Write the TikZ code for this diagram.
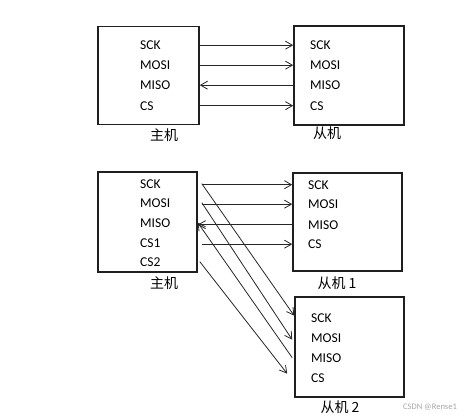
\documentclass[tikz,border=0pt]{standalone}
\usepackage{fontspec}
\setmainfont{Carlito}
\newfontfamily\cjk{Noto Sans CJK SC}
\usetikzlibrary{arrows.meta}

\tikzset{
		box/.style={draw=black!88, line width=1.6bp, minimum width=#1},
		box/.default=101bp,
		pin/.style={anchor=base west, inner sep=0pt, font=\fontsize{13.5bp}{15bp}\selectfont},
		caption/.style={inner sep=0pt, font=\cjk\fontsize{14bp}{16bp}\selectfont},
		sig/.style={black!85, line width=0.8bp, -{Straight Barb[length=7bp,width=8bp]}}
	}

\begin{document}
\begin{tikzpicture}[x=1bp, y=-1bp]
	\useasboundingbox (0,0) rectangle (474,419);
	
	% one host, one slave
	\node (mst1) at (148.5,75.5) [box, minimum height=98bp] {};
	\node (slv1) at (349,75.5) [box=110bp, minimum height=99bp] {};
	
	\node (mst1sck) at (140,49.5) [pin] {SCK};
	\node (mst1mosi) at (140,69.5) [pin] {MOSI};
	\node (mst1miso) at (140,89.5) [pin] {MISO};
	\node (mst1cs) at (140,110) [pin] {CS};
	
	\node (slv1sck) at (310,49.5) [pin] {SCK};
	\node (slv1mosi) at (310,69.5) [pin] {MOSI};
	\node (slv1miso) at (310,89.5) [pin] {MISO};
	\node (slv1cs) at (310,110) [pin] {CS};
	
	\node (mst1cap) at (164,135) [caption] {主机};
	\node (slv1cap) at (327,133) [caption] {从机};
	
	\draw [sig] (mst1.east |- mst1sck) -- (slv1.west |- slv1sck);
	\draw [sig] (mst1.east |- mst1mosi) -- (slv1.west |- slv1mosi);
	\draw [sig] (slv1.west |- slv1miso) -- (mst1.east |- mst1miso);
	\draw [sig] (mst1.east |- mst1cs) -- (slv1.west |- slv1cs);
	
	% one host, two slaves
	\node (mst2) at (147.5,222) [box=99bp, minimum height=100bp] {};
	\node (slv2a) at (347.5,222) [box=109bp, minimum height=98bp] {};
	\node (slv2b) at (349.5,347) [box=109bp, minimum height=100bp] {};
	
	\node (mst2sck) at (140,188) [pin] {SCK};
	\node (mst2mosi) at (140,207) [pin] {MOSI};
	\node (mst2miso) at (140,227) [pin] {MISO};
	\node (mst2csa) at (140,247) [pin] {CS1};
	\node (mst2csb) at (140,266) [pin] {CS2};
	
	\node (slv2asck) at (308,189) [pin] {SCK};
	\node (slv2amosi) at (308,208.5) [pin] {MOSI};
	\node (slv2amiso) at (308,229) [pin] {MISO};
	\node (slv2acs) at (308,248.5) [pin] {CS};
	
	\node (slv2bsck) at (311,322) [pin] {SCK};
	\node (slv2bmosi) at (311,342) [pin] {MOSI};
	\node (slv2bmiso) at (311,362) [pin] {MISO};
	\node (slv2bcs) at (311,382) [pin] {CS};
	
	\node (mst2cap) at (164,283) [caption] {主机};
	\node (slv2acap) at (337,283) [caption] {从机 1};
	\node (slv2bcap) at (340,407) [caption] {从机 2};
	
	\draw [sig] ([xshift=4bp]mst2.east |- slv2asck) -- (slv2a.west |- slv2asck);
	\draw [sig] ([xshift=4bp]mst2.east |- slv2amosi) -- (slv2a.west |- slv2amosi);
	\draw [sig] (slv2a.west |- slv2amiso) -- (mst2.east |- slv2amiso);
	\draw [sig] ([xshift=4bp]mst2.east |- slv2acs) -- (slv2a.west |- slv2acs);
	
	\draw [sig] ([xshift=4bp]mst2.east |- mst2sck) -- ([yshift=2bp]slv2b.west |- slv2bsck);
	\draw [sig] ([xshift=4bp]mst2.east |- mst2mosi) -- ([xshift=-2bp, yshift=-2bp]slv2b.west |- slv2bmosi);
	\draw [sig] ([xshift=-2bp]slv2b.west |- slv2bmiso) -- (mst2.east |- mst2miso);
	\draw [sig] ([xshift=2bp]mst2.east |- mst2csb) -- ([xshift=-7bp, yshift=4bp]slv2b.west |- slv2bcs);
	
	\node (mark) at (430,407) [inner sep=0pt, text=black!35, font=\fontsize{8.5bp}{10bp}\selectfont] {CSDN @Rense1};
	
\end{tikzpicture}
\end{document}
